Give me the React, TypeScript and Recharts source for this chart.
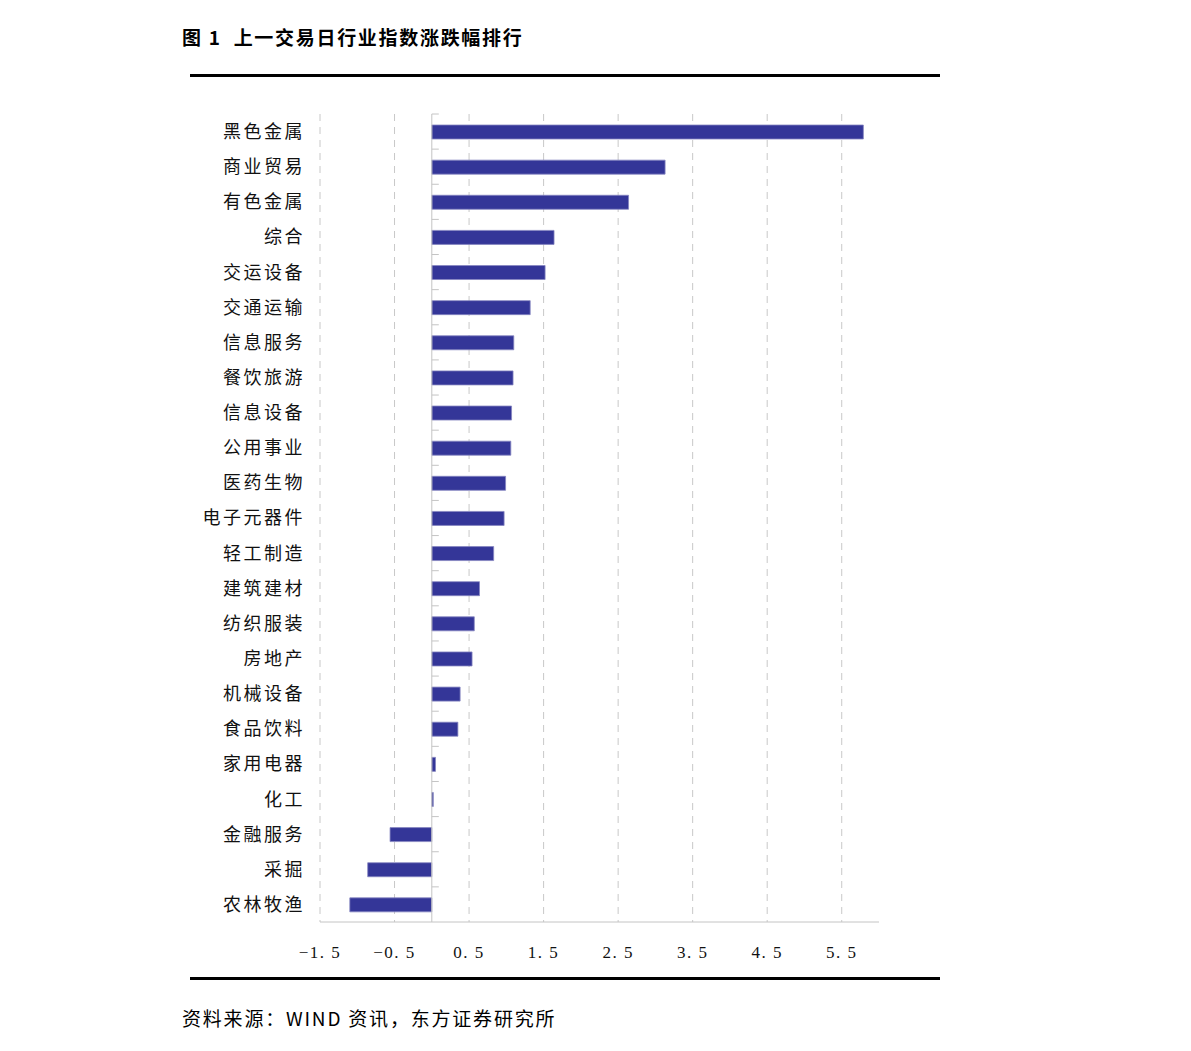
import React from 'react';
import { BarChart, Bar, XAxis, YAxis, ReferenceLine, CartesianGrid } from 'recharts';

const categories = [
  '黑色金属', '商业贸易', '有色金属', '综合', '交运设备', '交通运输', '信息服务', '餐饮旅游',
  '信息设备', '公用事业', '医药生物', '电子元器件', '轻工制造', '建筑建材', '纺织服装', '房地产',
  '机械设备', '食品饮料', '家用电器', '化工', '金融服务', '采掘', '农林牧渔',
];
const values = [
  5.79, 3.13, 2.64, 1.64, 1.52, 1.32, 1.10, 1.09,
  1.07, 1.06, 0.99, 0.97, 0.83, 0.64, 0.57, 0.54,
  0.38, 0.35, 0.05, 0.02, -0.56, -0.86, -1.10,
];
const xTicks = [-1.5, -0.5, 0.5, 1.5, 2.5, 3.5, 4.5, 5.5];
const X_MIN = -1.5;
const X_MAX = 6.0;

const title = '图 1  上一交易日行业指数涨跌幅排行';
const source = '资料来源：WIND 资讯，东方证券研究所';

const data = categories.map((name, i) => ({ name, value: values[i] }));

const fmt = (v: number) => {
  const s = v.toFixed(1).replace('.', '. ');
  return v < 0 ? '−' + s.slice(1) : s;
};

const YTick = (props: any) => {
  const { x, y, payload } = props;
  return (
    <text
      x={x - 7}
      y={y}
      dy="0.36em"
      textAnchor="end"
      fontSize={18}
      letterSpacing={2.5}
      fill="#111"
      fontFamily='"Noto Sans CJK SC", sans-serif'
    >
      {payload.value}
    </text>
  );
};

const ZeroTick = (props: any) => {
  const { x1, y1, x2 } = props;
  const zx = x1 + ((0 - X_MIN) / (X_MAX - X_MIN)) * (x2 - x1);
  return <line x1={zx} x2={zx + 7} y1={y1} y2={y1} stroke="#c4c4c4" strokeWidth={1} />;
};

export default function App() {
  return (
    <div style={{ position: 'absolute', left: 0, top: 0, width: 1191, height: 1051, background: '#fff' }}>
      <div
        style={{
          position: 'absolute',
          left: 182,
          top: 25,
          fontSize: 19,
          fontWeight: 'bold',
          letterSpacing: 1.7,
          fontFamily: '"Noto Sans CJK SC", sans-serif',
          color: '#000',
          whiteSpace: 'pre',
          lineHeight: '24px',
        }}
      >
        {title}
      </div>
      <div style={{ position: 'absolute', left: 190, top: 74, width: 750, height: 3, background: '#000' }} />
      <BarChart
        width={1191}
        height={1051}
        data={data}
        layout="vertical"
        margin={{ top: 114, right: 312, bottom: 89, left: 0 }}
        barCategoryGap={0}
        style={{ position: 'absolute', left: 0, top: 0 }}
      >
        <CartesianGrid
          horizontal={false}
          vertical={true}
          verticalValues={xTicks}
          stroke="#c8c8c8"
          strokeDasharray="7 6"
        />
        <XAxis
          type="number"
          domain={[X_MIN, X_MAX]}
          ticks={xTicks}
          tickFormatter={fmt}
          tickLine={false}
          tickSize={0}
          tickMargin={24}
          height={40}
          axisLine={{ stroke: '#c4c4c4' }}
          tick={{ fontSize: 17, fill: '#111', fontFamily: '"Liberation Serif", serif', letterSpacing: 1.5 }}
          interval={0}
        />
        <YAxis
          type="category"
          dataKey="name"
          width={320}
          axisLine={false}
          tickLine={false}
          tick={<YTick />}
          interval={0}
        />
        <ReferenceLine x={0} stroke="#c4c4c4" strokeWidth={1} />
        {categories.map((c) => (
          <ReferenceLine key={c} y={c} position="start" stroke="#c4c4c4" shape={<ZeroTick />} />
        ))}
        <Bar dataKey="value" fill="#343698" stroke="#8585c0" strokeWidth={0.8} barSize={14} isAnimationActive={false} />
      </BarChart>
      <div style={{ position: 'absolute', left: 190, top: 977, width: 750, height: 3, background: '#000' }} />
      <div
        style={{
          position: 'absolute',
          left: 182,
          top: 1006,
          fontSize: 19,
          letterSpacing: 1.8,
          fontFamily: '"Noto Sans CJK SC", sans-serif',
          color: '#000',
          whiteSpace: 'pre',
          lineHeight: '24px',
        }}
      >
        {source}
      </div>
    </div>
  );
}
